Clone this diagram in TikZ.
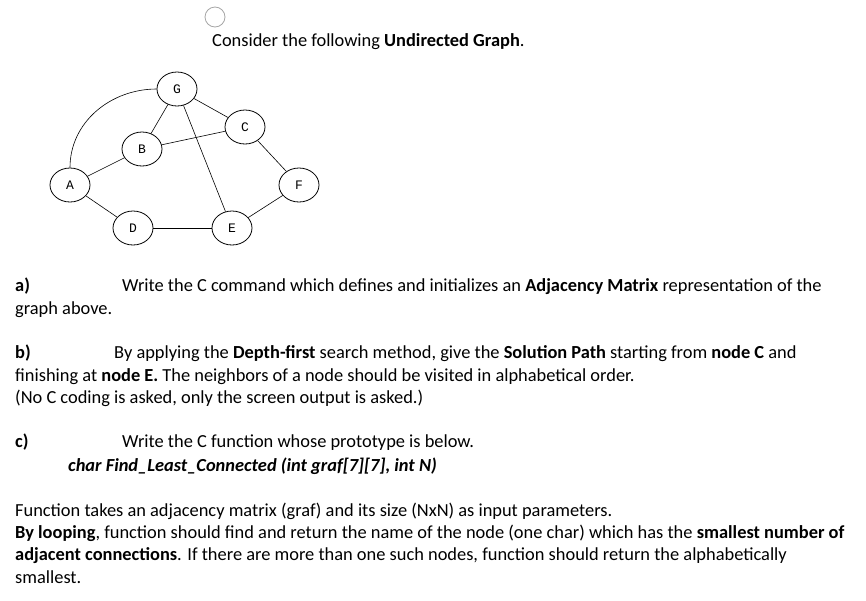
\documentclass[tikz,border=0pt]{standalone}
\usepackage{fontspec}
\setmainfont{Carlito}
\setmonofont{Liberation Mono}
\usetikzlibrary{shapes.geometric}
\begin{document}
\begin{tikzpicture}[x=1pt,y=-1pt,
  v/.style={draw,thick,ellipse,minimum width=40pt,minimum height=34pt,inner sep=0pt,font=\ttfamily\fontsize{13}{13}\selectfont},
  t/.style={anchor=base west,inner sep=0pt,font=\fontsize{18.4}{22}\selectfont},
  e/.style={draw,semithick}]
\useasboundingbox (0,0) rectangle (866,600);
\draw[gray!70,thick] (215,17) circle (10);
\node[v] (G) at (177,89) {G};
\node[v] (C) at (245,127) {C};
\node[v] (B) at (142,149) {B};
\node[v] (A) at (70,185) {A};
\node[v] (F) at (299,185) {F};
\node[v] (D) at (133,228) {D};
\node[v] (E) at (232,228) {E};
\draw[e] (A.north) to[out=90,in=180] (G.west);
\draw[e] (G) -- (B);
\draw[e] (G) -- (C);
\draw[e] (G) -- (E);
\draw[e] (B) -- (C);
\draw[e] (A) -- (B);
\draw[e] (A) -- (D);
\draw[e] (D) -- (E);
\draw[e] (E) -- (F);
\draw[e] (C) -- (F);
\node[t] (t0) at (212,46) {Consider the following \textbf{Undirected Graph}.};
\node[t] (a1) at (15,291) {\textbf{a)}};
\node[t] (a2) at (122,291) {Write the C command which defines and initializes an \textbf{Adjacency Matrix} representation of the};
\node[t] (a3) at (15,314) {graph above.};
\node[t] (b1) at (15,358) {\textbf{b)}};
\node[t] (b2) at (114,358) {By applying the \textbf{Depth-first} search method, give the \textbf{Solution Path} starting from \textbf{node C} and};
\node[t] (b3) at (15,381) {finishing at \textbf{node E.} The neighbors of a node should be visited in alphabetical order.};
\node[t] (b4) at (15,403) {(No C coding is asked, only the screen output is asked.)};
\node[t] (c1) at (15,447) {\textbf{c)}};
\node[t] (c2) at (122,447) {Write the C function whose prototype is below.};
\node[t] (c3) at (68,471) {\textbf{\itshape char Find\_Least\_Connected (int graf[7][7], int N)}};
\node[t] (d1) at (15,516) {Function takes an adjacency matrix (graf) and its size (NxN) as input parameters.};
\node[t] (d2) at (15,538) {\textbf{By looping}, function should find and return the name of the node (one char) which has the \textbf{smallest number of}};
\node[t] (d3) at (15,560) {\textbf{adjacent connections}. If there are more than one such nodes, function should return the alphabetically};
\node[t] (d4) at (15,583) {smallest.};
\end{tikzpicture}
\end{document}
